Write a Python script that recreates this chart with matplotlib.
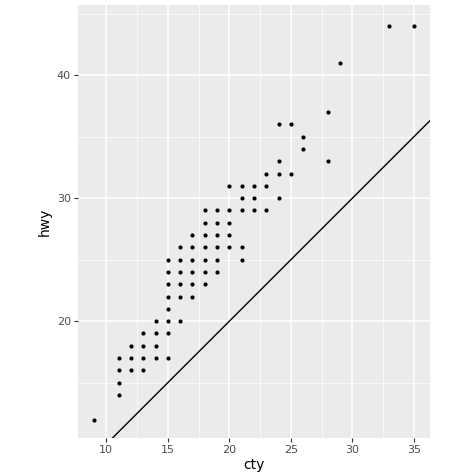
import matplotlib.pyplot as plt
import numpy as np

# unique (cty, hwy) pairs from the mpg data
cty = [9, 11, 11, 11, 11, 12, 12, 12, 13, 13, 13, 13, 14, 14, 14, 14,
       15, 15, 15, 15, 15, 15, 15, 15, 16, 16, 16, 16, 16, 16,
       17, 17, 17, 17, 17, 17, 18, 18, 18, 18, 18, 18, 18,
       19, 19, 19, 19, 19, 19, 20, 20, 20, 20, 20,
       21, 21, 21, 21, 21, 22, 22, 22, 23, 23, 23,
       24, 24, 24, 24, 25, 25, 26, 26, 28, 28, 29, 33, 35]
hwy = [12, 14, 15, 16, 17, 16, 17, 18, 16, 17, 18, 19, 17, 18, 19, 20,
       17, 19, 20, 21, 22, 23, 24, 25, 20, 22, 23, 24, 25, 26,
       22, 23, 24, 25, 26, 27, 23, 24, 25, 26, 27, 28, 29,
       24, 25, 26, 27, 28, 29, 26, 27, 28, 29, 31,
       25, 26, 29, 30, 31, 29, 30, 31, 29, 31, 32,
       30, 32, 33, 36, 32, 36, 34, 35, 33, 37, 41, 44, 44]

fig = plt.figure(figsize=(4.74, 4.74), dpi=100)
ax = fig.add_axes([78/474, 36/474, 352/474, 433/474])
ax.set_facecolor('#ebebeb')
ax.set_xlim(7.7, 36.3)
ax.set_ylim(10.5, 45.7)

ax.set_xticks([10, 15, 20, 25, 30, 35])
ax.set_yticks([20, 30, 40])
ax.set_xticks(np.arange(12.5, 36, 5), minor=True)
ax.set_yticks([15, 25, 35, 45], minor=True)
ax.grid(True, which='major', color='white', linewidth=1.1)
ax.grid(True, which='minor', color='white', linewidth=0.5)
ax.set_axisbelow(True)
for s in ax.spines.values():
    s.set_visible(False)
ax.tick_params(which='major', length=3, pad=2, color='#333333', labelsize=8, labelcolor='#4d4d4d')
ax.tick_params(which='minor', length=0)

ax.scatter(cty, hwy, s=9, color='black', linewidths=0, zorder=3)
line = np.array([0, 50])
ax.plot(line, line, color='black', linewidth=1, zorder=2)

ax.set_xlabel('cty', fontsize=10, labelpad=2)
ax.set_ylabel('hwy', fontsize=10, labelpad=4)

fig.savefig('out.png', dpi=100)
